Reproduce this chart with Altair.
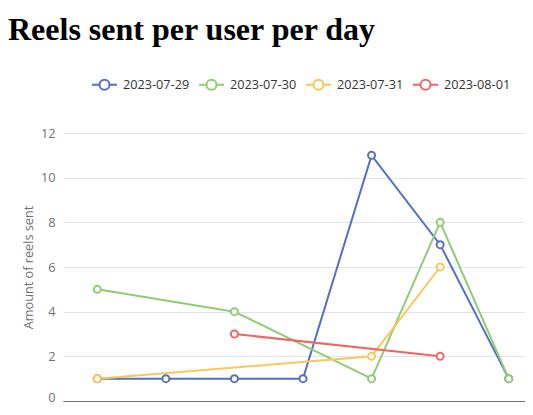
import altair as alt
import pandas as pd

# categories along the x axis (labels are cut off at the bottom of the reference)
users = ["user_1", "user_2", "user_3", "user_4", "user_5", "user_6", "user_7"]
days = ["2023-07-29", "2023-07-30", "2023-07-31", "2023-08-01"]

s_0729 = [1, 1, 1, 1, 11, 7, 1]
s_0730 = [5, None, 4, None, 1, 8, 1]
s_0731 = [1, None, None, None, 2, 6, None]
s_0801 = [None, None, 3, None, None, 2, None]

colors = ["#5470c6", "#91cc75", "#fac858", "#ee6666"]

rows = []
for day, vals in zip(days, [s_0729, s_0730, s_0731, s_0801]):
    for u, v in zip(users, vals):
        if v is not None:
            rows.append({"user": u, "day": day, "reels": v})
source = pd.DataFrame(rows)

font = "Open Sans"
fsize = 12.7
legend_path = "M-1,0L-0.4,0M0.4,0L1,0M0.4,0A0.4,0.4,0,1,1,-0.4,0A0.4,0.4,0,1,1,0.4,0"

# x bands run past the right edge of the view, as in the reference
x = alt.X(
    "user:N",
    sort=users,
    title=None,
    scale=alt.Scale(type="band", paddingInner=0, paddingOuter=0, range=[0, 480]),
    axis=alt.Axis(
        tickBand="extent", tickSize=5, tickColor="#6E7079", domainColor="#6E7079",
        labelAngle=-45, labelColor="#6E7079", labelFontSize=fsize, labelFont=font,
        labelPadding=4, grid=False,
    ),
)
y = alt.Y(
    "reels:Q",
    title="Amount of reels sent",
    scale=alt.Scale(domain=[0, 12], nice=False),
    axis=alt.Axis(
        values=[0, 2, 4, 6, 8, 10, 12], domain=False, ticks=False,
        gridColor="#E0E6F1", labelColor="#6E7079", labelFontSize=fsize, labelFont=font,
        labelPadding=8,
        # lift the "0" label a little so it stays inside the page
        labelOffset={"condition": {"test": "datum.value == 0", "value": -4}, "value": 0},
        titleColor="#6E7079", titleFontSize=fsize, titleFont=font,
        titleFontWeight="normal", titleX=-35, titleY=134, titleAngle=-90,
        titleAlign="center", titleBaseline="middle",
    ),
)
stroke = alt.Stroke(
    "day:N",
    scale=alt.Scale(domain=days, range=colors),
    legend=alt.Legend(
        title=None, orient="none", direction="horizontal", legendX=28, legendY=-62,
        symbolType=legend_path, symbolSize=625, symbolStrokeWidth=2,
        symbolFillColor="white", labelFontSize=fsize, labelColor="#333333",
        labelFont=font, labelOffset=5, columnPadding=5,
    ),
)

lines = alt.Chart(source).mark_line(strokeWidth=2).encode(x=x, y=y, stroke=stroke)
points = alt.Chart(source).mark_point(
    shape="circle", filled=False, fill="white", fillOpacity=1, size=50,
    strokeWidth=2, opacity=1,
).encode(x=x, y=y, stroke=stroke)

chart = alt.layer(lines, points).properties(
    width=462,
    height=268,
    title=alt.TitleParams(
        "Reels sent per user per day", anchor="start", frame="group",
        font="Liberation Serif", fontSize=32, fontWeight="bold", color="#000000",
        dx=-55, dy=-20,
    ),
    autosize=alt.AutoSizeParams(type="none"),
    padding={"left": 55, "top": 125, "right": 0, "bottom": 1},
).configure_view(strokeWidth=0)

chart.save("out.html", embed_options={"renderer": "svg", "actions": False})
